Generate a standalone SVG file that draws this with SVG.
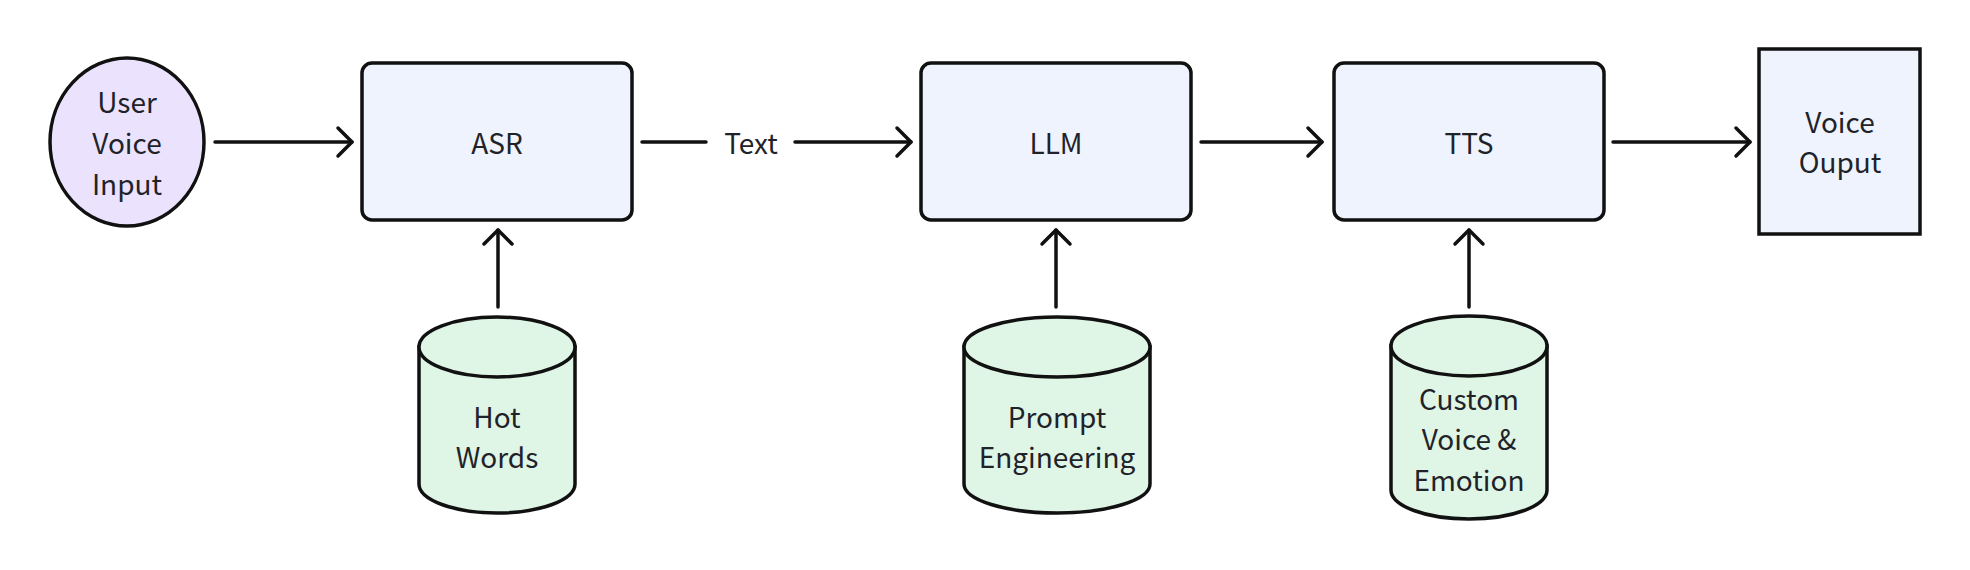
<svg xmlns="http://www.w3.org/2000/svg" width="1970" height="570" viewBox="0 0 1970 570">
<style>
text{font-family:"Noto Sans CJK SC","Noto Sans","Liberation Sans",sans-serif;font-size:28px;fill:#1f2329;text-anchor:middle}
.box{fill:#eff3fd;stroke:#111;stroke-width:3.5}
.cyl{fill:#dff5e6;stroke:#111;stroke-width:3.5}
.conn{fill:none;stroke:#111;stroke-width:3.5;stroke-linecap:round}
</style>
<defs>
<marker id="arr" markerUnits="userSpaceOnUse" viewBox="-18 -18 22 36" refX="0" refY="0" markerWidth="22" markerHeight="36" orient="auto" overflow="visible">
<path d="M-14,-14 L0,0 L-14,14" fill="none" stroke="#111" stroke-width="3.5" stroke-linecap="round" stroke-linejoin="round"/>
</marker>
</defs>
<rect width="1970" height="570" fill="#fff"/>
<g id="connectors">
<path class="conn" d="M215,142 L352,142" marker-end="url(#arr)"/>
<path class="conn" d="M642,142 L706,142"/>
<path class="conn" d="M795,142 L911,142" marker-end="url(#arr)"/>
<text x="751" y="154">Text</text>
<path class="conn" d="M1201,142 L1322,142" marker-end="url(#arr)"/>
<path class="conn" d="M1613,142 L1750,142" marker-end="url(#arr)"/>
<path class="conn" d="M498,307 L498,230" marker-end="url(#arr)"/>
<path class="conn" d="M1056,307 L1056,230" marker-end="url(#arr)"/>
<path class="conn" d="M1469,307 L1469,230" marker-end="url(#arr)"/>
</g>
<g id="user-voice-input">
<ellipse cx="127" cy="142" rx="77" ry="84" fill="#ebe3fd" stroke="#111" stroke-width="3.5"/>
<text x="127" y="113">User</text>
<text x="127" y="154">Voice</text>
<text x="127" y="195">Input</text>
</g>
<g id="asr">
<rect class="box" x="362" y="63" width="270" height="157" rx="10"/>
<text x="497" y="154">ASR</text>
</g>
<g id="llm">
<rect class="box" x="921" y="63" width="270" height="157" rx="10"/>
<text x="1056" y="154">LLM</text>
</g>
<g id="tts">
<rect class="box" x="1334" y="63" width="270" height="157" rx="10"/>
<text x="1469" y="154">TTS</text>
</g>
<g id="voice-output">
<rect class="box" x="1759" y="49" width="161" height="185" stroke-width="4"/>
<text x="1840" y="133">Voice</text>
<text x="1840" y="173">Ouput</text>
</g>
<g id="hot-words">
<path class="cyl" d="M419,347 L419,484 A78,29 0 0 0 575,484 L575,347 Z"/>
<ellipse class="cyl" cx="497" cy="347" rx="78" ry="30"/>
<text x="497" y="428">Hot</text>
<text x="497" y="468">Words</text>
</g>
<g id="prompt-engineering">
<path class="cyl" d="M964,347 L964,484 A93,29 0 0 0 1150,484 L1150,347 Z"/>
<ellipse class="cyl" cx="1057" cy="347" rx="93" ry="30"/>
<text x="1057" y="428">Prompt</text>
<text x="1057" y="468">Engineering</text>
</g>
<g id="custom-voice-emotion">
<path class="cyl" d="M1391,346 L1391,490 A78,29 0 0 0 1547,490 L1547,346 Z"/>
<ellipse class="cyl" cx="1469" cy="346" rx="78" ry="30"/>
<text x="1469" y="410">Custom</text>
<text x="1469" y="450">Voice &amp;</text>
<text x="1469" y="491">Emotion</text>
</g>
</svg>
